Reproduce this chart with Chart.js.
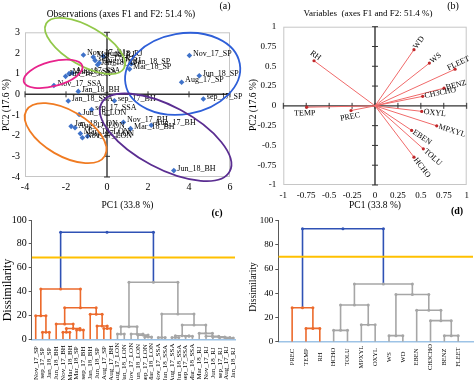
<!DOCTYPE html>
<html><head><meta charset="utf-8">
<script src="https://cdn.jsdelivr.net/npm/chart.js@4.4.1/dist/chart.umd.min.js"></script>
<style>
html,body{margin:0;padding:0;background:#fff;}
body{width:474px;height:380px;position:relative;overflow:hidden;}
canvas{position:absolute;}
</style></head><body>
<canvas id="cb" width="237" height="212" style="left:237px;top:0;"></canvas>
<canvas id="cc" width="240" height="175" style="left:0;top:205px;"></canvas>
<canvas id="cd" width="237" height="175" style="left:237px;top:205px;"></canvas>
<canvas id="ca" width="250" height="212" style="left:0;top:0;"></canvas>
<script>
// ---------- DATA ----------
// (a) observations
const obsLabels = ['Nov_17_SP','sep_17_SP','Jan_18_SP','Mar_18_SP','Jun_18_SP','Aug_17_SP',
  'Jun_18_BH','Nov_17_BH','Mar_18_BH','sep_17_BH','Jan_18_BH','Aug_17_BH',
  'Aug_17_LON','Jan_18_LON','Nov_17_LON','Jun_18_LON','sep_17_LON','Mar_18_LON',
  'Nov_17_SSA','Jan_18_SSA','Aug_17_SSA','Jun_18_SSA','sep_17_SSA','Mar_18_SSA',
  'Mar_18_RJ','Nov_17_RJ','Jun_18_RJ','sep_17_RJ','Aug_17_RJ','Jan_18_RJ'];
const obsX = [4.02,4.70,1.18,1.10,4.50,3.64, 3.26,0.80,1.15,0.36,-1.40,2.16,
  -1.56,-1.75,-1.20,-1.36,-0.95,-1.30, -2.59,-1.89,-1.69,-2.02,-0.75,-1.85,
  -0.67,-1.15,-0.18,-0.58,-0.38,-0.46];
const obsY = [1.88,-0.23,1.47,1.22,0.90,0.58, -3.69,-1.35,-1.66,-0.31,0.14,-1.50,
  -1.62,-1.55,-2.10,-0.98,-2.03,-1.90, 0.43,-0.32,1.03,0.87,-0.74,1.00,
  1.80,1.90,1.84,1.64,1.52,1.43];
// confidence ellipses (data units)
const ellipseCX = [-1.07, 3.69, -2.63, -2.02, 2.86];
const ellipseCY = [2.34, 0.99, 0.99, -1.88, -2.08];
const ellipseA  = [2.19, 2.83, 1.48, 2.21, 3.54];
const ellipseB  = [0.95, 1.97, 0.60, 1.11, 1.52];
const ellipseTilt = [30, -10, -15, 30, 28];
// (b) variables
const varLabels = ['RH','WD','WS','FLEET','BENZ','CH3CHO','OXYL','MPXYL','EBEN','TOLU','HCHO','TEMP','PREC'];
const varX = [-0.665,0.425,0.593,0.873,0.753,0.52,0.51,0.673,0.40,0.527,0.425,-0.745,-0.262];
const varY = [0.57,0.71,0.54,0.463,0.223,0.12,-0.07,-0.253,-0.31,-0.543,-0.648,-0.017,-0.059];
// (c) observation dendrogram
const leafLabelsC = ['Nov_17_SP','sep_17_SP','Jan_18_SP','Jun_18_BH','Nov_17_BH','Mar_18_BH','Mar_18_SP','sep_17_BH','Jan_18_BH','Jun_18_SP','Aug_17_SP','Aug_17_BH',
  'Aug_17_LON','Jan_18_LON','Nov_17_LON','Jun_18_LON','sep_17_LON','Mar_18_LON',
  'Nov_17_SSA','Jan_18_SSA','Aug_17_SSA','Jun_18_SSA','sep_17_SSA','Mar_18_SSA',
  'Mar_18_RJ','Nov_17_RJ','Jun_18_RJ','sep_17_RJ','Aug_17_RJ','Jan_18_RJ'];
const mergesC = [
  [1,2,5.9],[0,30,19.8],[4,5,5.9],[6,7,7.8],[32,33,9],[3,34,12.8],[10,11,9],[9,36,11.2],[8,37,21],[35,38,26.5],[31,39,42.2],
  [12,13,4.5],[16,17,2],[15,42,3.5],[14,43,4.5],[41,44,10.6],
  [18,19,1.5],[20,21,1.5],[22,23,2.5],[47,48,3],[28,29,1],[27,50,1.5],[26,51,2],[25,52,2.5],[24,53,5],[49,54,12],[46,55,21.2],[45,56,47.8],[40,57,89.7]];
const cutC = 68.5;
// (d) variable dendrogram
const leafLabelsD = ['PREC','TEMP','RH','HCHO','TOLU','MPXYL','OXYL','WS','WD','EBEN','CH3CHO','BENZ','FLEET'];
const mergesD = [[1,2,11],[0,13,28],[3,4,9.4],[5,6,14],[15,16,30.3],[7,8,5],[11,12,5],[10,19,17.4],[9,20,26],[18,21,39],[17,22,47.7],[14,23,93.4]];
const cutD = 70.2;
const dissimTicks = [0,10,20,30,40,50,60,70,80,90,100];

// ---------- STYLE / HELPERS ----------
const FONT = "'Liberation Serif','Times New Roman',serif";
Chart.defaults.font.family = FONT;
Chart.defaults.color = '#000';
const ellipseColors = ['#92c84a','#2e5fd8','#e8238c','#f07b22','#5a2d91'];
const clusterColors = ['#ec6a2c','#a6a6a6'];
const topColor = '#2f52b5';

function txt(ctx, s, x, y, size, o) {
  o = o || {};
  ctx.save();
  ctx.font = (o.bold ? 'bold ' : '') + size + 'px ' + FONT;
  ctx.fillStyle = o.color || '#000';
  ctx.textAlign = o.align || 'center';
  ctx.textBaseline = o.base || 'middle';
  ctx.translate(x, y);
  if (o.rot) ctx.rotate(o.rot);
  ctx.fillText(s, 0, 0);
  ctx.restore();
}
function textsPlugin(items) {
  return { id: 'texts', afterDraw(chart) { items.forEach(it => txt(chart.ctx, it.t, it.x, it.y, it.s, it)); } };
}
function fitTo(size) { return s => { if (s.isHorizontal()) s.height = size; else s.width = size; }; }
function line(ctx, x1, y1, x2, y2) { ctx.beginPath(); ctx.moveTo(x1, y1); ctx.lineTo(x2, y2); ctx.stroke(); }
const numFmt = v => String(+(+v).toFixed(2));

function pcaFrame() {
  return { id: 'pcaFrame', beforeDatasetsDraw(chart) {
    const ctx = chart.ctx, a = chart.chartArea, x = chart.scales.x, y = chart.scales.y;
    ctx.save();
    ctx.strokeStyle = '#c6c6c6'; ctx.lineWidth = 1;
    ctx.strokeRect(a.left + 0.5, a.top + 0.5, a.width - 1, a.height - 1);
    const x0 = x.getPixelForValue(0), y0 = y.getPixelForValue(0);
    ctx.strokeStyle = '#333'; ctx.lineWidth = 1.4;
    line(ctx, x0, a.top, x0, a.bottom); line(ctx, a.left, y0, a.right, y0);
    ctx.lineWidth = 1;
    x.ticks.forEach(t => { const p = x.getPixelForValue(t.value); line(ctx, p, y0 - 3, p, y0 + 3); });
    y.ticks.forEach(t => { const p = y.getPixelForValue(t.value); line(ctx, x0 - 3, p, x0 + 3, p); });
    ctx.restore();
  } };
}
function pcaScale(min, max, step, size, pad, box) {
  return { type: 'linear', min, max, afterFit: fitTo(box),
    ticks: { stepSize: step, font: { size }, padding: pad, color: '#000', callback: numFmt,
      autoSkip: false, maxRotation: 0, minRotation: 0 },
    grid: { display: false, drawTicks: false }, border: { display: false } };
}
const baseOpts = { responsive: false, animation: false, events: [],
  plugins: { legend: { display: false }, tooltip: { enabled: false }, title: { display: false } } };

// ---------- (a) ----------
const ellipsePlugin = { id: 'ellipses', afterDatasetsDraw(chart) {
  const ctx = chart.ctx, x = chart.scales.x, y = chart.scales.y;
  const ux = Math.abs(x.getPixelForValue(1) - x.getPixelForValue(0));
  ctx.save();
  ctx.font = '8px ' + FONT; ctx.fillStyle = '#000'; ctx.textAlign = 'left'; ctx.textBaseline = 'middle';
  chart.getDatasetMeta(0).data.forEach((pt, i) => ctx.fillText(obsLabels[i], pt.x + 3.5, pt.y - 2));
  ctx.lineWidth = 1.8;
  ellipseCX.forEach((cx, i) => {
    ctx.strokeStyle = ellipseColors[i];
    ctx.beginPath();
    ctx.ellipse(x.getPixelForValue(cx), y.getPixelForValue(ellipseCY[i]), ellipseA[i] * ux, ellipseB[i] * ux,
      ellipseTilt[i] * Math.PI / 180, 0, Math.PI * 2);
    ctx.stroke();
  });
  ctx.restore();
} };
new Chart(document.getElementById('ca'), {
  type: 'scatter',
  data: { datasets: [{ data: obsX.map((v, i) => ({ x: v, y: obsY[i] })), pointStyle: 'rectRot', pointRadius: 2.8,
    backgroundColor: '#3f72c9', borderWidth: 0 }] },
  options: Object.assign({}, baseOpts, {
    layout: { padding: { left: 0, top: 32.3, right: 20, bottom: 15 } },
    scales: { x: pcaScale(-4, 6, 2, 10, 4, 20), y: pcaScale(-4, 3, 1, 10, 5, 25) } }),
  plugins: [pcaFrame(), ellipsePlugin, textsPlugin([
    { t: 'Observations (axes F1 and F2: 51.4 %)', x: 121, y: 14, s: 9.5 },
    { t: '(a)', x: 225, y: 6, s: 10 },
    { t: 'PC1 (33.8 %)', x: 127.5, y: 205, s: 9.5 },
    { t: 'PC2 (17.6 %)', x: 6, y: 105, s: 9.5, rot: -Math.PI / 2 }])]
});

// ---------- (b) ----------
const varLabelPlugin = { id: 'varLabels', afterDatasetsDraw(chart) {
  const ctx = chart.ctx, x = chart.scales.x, y = chart.scales.y;
  const ox = x.getPixelForValue(0), oy = y.getPixelForValue(0);
  ctx.save(); ctx.font = '8px ' + FONT;
  varLabels.forEach((lab, i) => {
    const px = x.getPixelForValue(varX[i]), py = y.getPixelForValue(varY[i]);
    let dx = px - ox, dy = py - oy; const L = Math.hypot(dx, dy); dx /= L; dy /= L;
    let rot = Math.atan2(dy, dx); const flip = dx < 0; if (flip) rot += Math.PI;
    const w = ctx.measureText(lab).width;
    let along, perp;
    if (!flip) {
      along = w / 2 + 2; perp = 0;
      const limit = chart.width - 3 - px - (w / 2) * Math.abs(Math.cos(rot));
      if (along * dx > limit) { along = Math.max(0, limit / dx); perp = 4; }
    } else { along = 2; perp = varY[i] > 0.3 ? 5 : -6; }
    const cx = px + dx * along + Math.sin(rot) * perp, cy = py + dy * along - Math.cos(rot) * perp;
    txt(ctx, lab, cx, cy, 8, { rot });
  });
  ctx.restore();
} };
new Chart(document.getElementById('cb'), {
  type: 'scatter',
  data: { datasets: varX.map((v, i) => ({ data: [{ x: 0, y: 0 }, { x: v, y: varY[i] }], showLine: true,
    borderColor: '#f06a6a', borderWidth: 1, pointRadius: [0, 1.6], pointBackgroundColor: '#c0282a', pointBorderWidth: 0 })) },
  options: Object.assign({}, baseOpts, {
    layout: { padding: { left: 0, top: 26.7, right: 7.3, bottom: 7 } },
    scales: { x: pcaScale(-1, 1, 0.25, 9, 5, 20), y: pcaScale(-1, 1, 0.25, 9, 7, 46.3) } }),
  plugins: [pcaFrame(), varLabelPlugin, textsPlugin([
    { t: 'Variables  (axes F1 and F2: 51.4 %)', x: 131, y: 14, s: 9 },
    { t: '(b)', x: 216, y: 6, s: 10 },
    { t: 'PC1 (33.8 %)', x: 138, y: 205.5, s: 9.5 },
    { t: 'PC2 (17.6 %)', x: 16, y: 105, s: 9.5, rot: -Math.PI / 2 }])]
});

// ---------- dendrograms ----------
function dendroDatasets(nLeaf, merges, cut, xmin, xmax) {
  const pos = [], ht = [], parent = [];
  for (let i = 0; i < nLeaf; i++) { pos[i] = i + 1; ht[i] = 0; }
  merges.forEach((m, k) => { const id = nLeaf + k; pos[id] = (pos[m[0]] + pos[m[1]]) / 2; ht[id] = m[2]; parent[m[0]] = id; parent[m[1]] = id; });
  const rootOf = id => { while (parent[id] !== undefined && ht[parent[id]] < cut) id = parent[id]; return id; };
  const roots = [];
  merges.forEach((m, k) => { if (m[2] < cut) { const r = rootOf(nLeaf + k); if (!roots.includes(r)) roots.push(r); } });
  roots.sort((a, b) => pos[a] - pos[b]);
  const ds = [{ data: [{ x: xmin, y: cut }, { x: xmax, y: cut }], showLine: true, borderColor: '#ffc000', borderWidth: 2, pointRadius: 0 }];
  merges.forEach((m, k) => {
    const id = nLeaf + k, h = m[2], l = m[0], r = m[1];
    const c = h >= cut ? topColor : clusterColors[roots.indexOf(rootOf(id)) % clusterColors.length];
    ds.push({ data: [{ x: pos[l], y: ht[l] }, { x: pos[l], y: h }, { x: pos[id], y: h }, { x: pos[r], y: h }, { x: pos[r], y: ht[r] }],
      showLine: true, borderColor: c, borderWidth: 1.6, pointRadius: [0, 1.5, 1.5, 1.5, 0], pointBackgroundColor: c, pointBorderWidth: 0 });
  });
  return ds;
}
function leafPlugin(labels, yc, size) {
  return { id: 'leaves', afterDraw(chart) {
    const x = chart.scales.x;
    labels.forEach((lab, i) => txt(chart.ctx, lab, x.getPixelForValue(i + 1), yc, size, { rot: -Math.PI / 2 }));
  } };
}
function dendroScales(xmin, xmax, tickSize, yBox) {
  return {
    x: { type: 'linear', min: xmin, max: xmax, afterFit: fitTo(0), ticks: { display: false },
      grid: { display: false, drawTicks: false }, border: { display: true, color: '#9dc3e6', width: 1.5 } },
    y: { type: 'linear', min: 0, max: 100, afterFit: fitTo(yBox),
      afterBuildTicks: s => { s.ticks = dissimTicks.map(v => ({ value: v })); },
      ticks: { font: { size: tickSize }, padding: 2, color: '#000' },
      grid: { display: true, drawOnChartArea: false, drawTicks: true, tickLength: 3, color: '#595959' },
      border: { display: true, color: '#595959', width: 1 } } };
}
// (c)
new Chart(document.getElementById('cc'), {
  type: 'scatter',
  data: { datasets: dendroDatasets(leafLabelsC.length, mergesC, cutC, 0.41, 30.25) },
  options: Object.assign({}, baseOpts, {
    layout: { padding: { left: 0, top: 15, right: 5, bottom: 40.7 } },
    scales: dendroScales(0.41, 30.25, 10, 31.7) }),
  plugins: [leafPlugin(leafLabelsC, 158, 7), textsPlugin([
    { t: '(c)', x: 217, y: 8, s: 10, bold: true },
    { t: 'Dissimilarity', x: 8, y: 85, s: 12, rot: -Math.PI / 2 }])]
});
// (d)
new Chart(document.getElementById('cd'), {
  type: 'scatter',
  data: { datasets: dendroDatasets(leafLabelsD.length, mergesD, cutD, 0, 14.07) },
  options: Object.assign({}, baseOpts, {
    layout: { padding: { left: 0, top: 15.7, right: 1, bottom: 38.3 } },
    scales: dendroScales(0, 14.07, 9, 41.3) }),
  plugins: [leafPlugin(leafLabelsD, 152, 6.5), textsPlugin([
    { t: '(d)', x: 220, y: 6, s: 10, bold: true },
    { t: 'Dissimilarity', x: 16, y: 82, s: 9.5, rot: -Math.PI / 2 }])]
});
</script>
</body></html>
